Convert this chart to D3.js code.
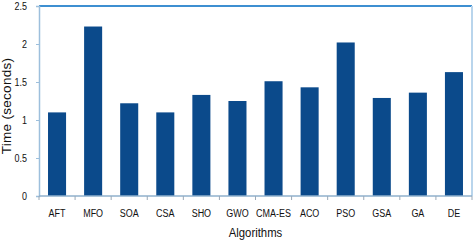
<!DOCTYPE html>
<html>
<head>
<meta charset="utf-8">
<script src="https://cdn.jsdelivr.net/npm/d3@7"></script>
<style>
  body { margin: 0; background: #fff; }
  text { font-family: "Liberation Sans", Arial, sans-serif; fill: #111; }
</style>
</head>
<body>
<div id="chart"></div>
<script>
const algorithms = ["AFT", "MFO", "SOA", "CSA", "SHO", "GWO", "CMA-ES", "ACO", "PSO", "GSA", "GA", "DE"];
const times = [1.10, 2.23, 1.22, 1.10, 1.33, 1.25, 1.51, 1.43, 2.02, 1.29, 1.36, 1.63];
const yTicks = [0, 0.5, 1, 1.5, 2, 2.5];

const W = 474, H = 243;
const margin = { top: 6, right: 2, bottom: 47, left: 39 };
const width = W - margin.left - margin.right;
const height = H - margin.top - margin.bottom;
const squeeze = 0.78; // labels in the original are set in a narrow face

const svg = d3.select("#chart").append("svg")
  .attr("width", W)
  .attr("height", H)
  .append("g")
  .attr("transform", `translate(${margin.left},${margin.top})`);

const x = d3.scaleBand().domain(algorithms).range([0, width]).paddingInner(0.5).paddingOuter(0.25);
const y = d3.scaleLinear().domain([0, 2.5]).range([height, 0]);

// plot frame
svg.append("line").attr("x1", 0).attr("x2", width).attr("y1", 0).attr("y2", 0)
  .attr("stroke", "#3d8fd1").attr("stroke-width", 2);
svg.append("line").attr("x1", width).attr("x2", width).attr("y1", 0).attr("y2", height)
  .attr("stroke", "#b9d5ec").attr("stroke-width", 2);

svg.selectAll(".bar")
  .data(algorithms)
  .enter()
  .append("rect")
  .attr("class", "bar")
  .attr("x", d => x(d))
  .attr("width", x.bandwidth())
  .attr("y", (d, i) => y(times[i]))
  .attr("height", (d, i) => height - y(times[i]))
  .attr("fill", "#0b4a8b");

// y axis
const yAxis = svg.append("g")
  .call(d3.axisLeft(y).tickValues(yTicks).tickSize(3).tickFormat(d => d));
yAxis.select(".domain").attr("stroke", "#9dbfdc").attr("stroke-width", 1.5);
yAxis.selectAll(".tick line").attr("stroke", "#9dbfdc");
yAxis.selectAll(".tick text")
  .attr("x", -12 / squeeze)
  .attr("transform", `scale(${squeeze},1)`)
  .style("font-size", "11.5px")
  .attr("fill", "#111");

// x axis with ticks at category boundaries
const xAxis = svg.append("g").attr("transform", `translate(0,${height})`);
xAxis.append("line").attr("x1", 0).attr("x2", width).attr("y1", 0).attr("y2", 0)
  .attr("stroke", "#8fb0cc").attr("stroke-width", 1.5);
xAxis.selectAll(".sep")
  .data(d3.range(algorithms.length + 1))
  .enter()
  .append("line")
  .attr("x1", i => i * width / algorithms.length)
  .attr("x2", i => i * width / algorithms.length)
  .attr("y1", 0)
  .attr("y2", 4)
  .attr("stroke", "#9aa9b8");
xAxis.selectAll(".lbl")
  .data(algorithms)
  .enter()
  .append("text")
  .attr("transform", `scale(${squeeze},1)`)
  .attr("x", d => (x(d) + x.bandwidth() / 2) / squeeze)
  .attr("y", 21)
  .attr("text-anchor", "middle")
  .style("font-size", "11.5px")
  .text(d => d);

svg.append("text")
  .attr("transform", `scale(0.84,1)`)
  .attr("x", (width / 2) / 0.84)
  .attr("y", height + 41)
  .attr("text-anchor", "middle")
  .style("font-size", "13.5px")
  .text("Algorithms");

svg.append("text")
  .attr("transform", "rotate(-90)")
  .attr("x", -106 + margin.top)
  .attr("y", -28)
  .attr("text-anchor", "middle")
  .style("font-size", "13.5px")
  .style("letter-spacing", "0.3px")
  .text("Time (seconds)");
</script>
</body>
</html>
